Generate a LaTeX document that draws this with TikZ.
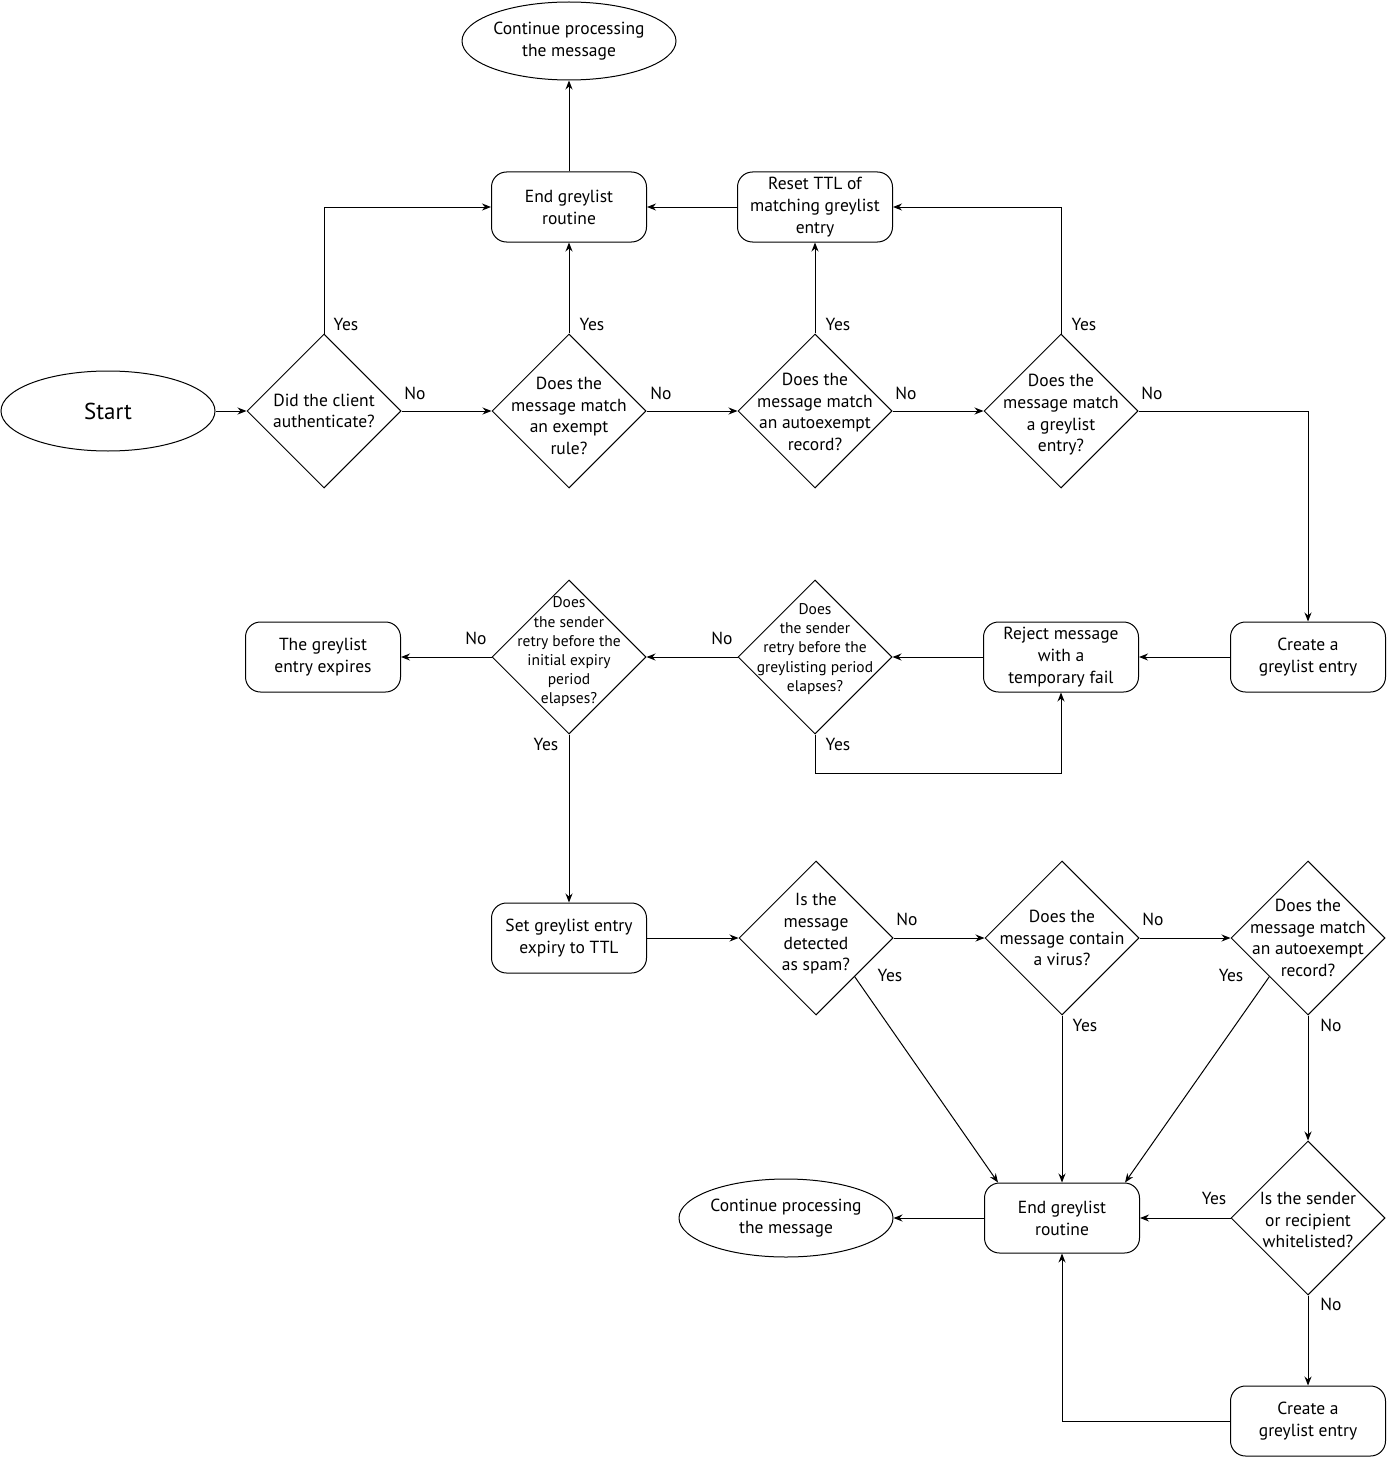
\documentclass[tikz,border=0pt]{standalone}
\usepackage{fontspec}
\setmainfont{PT Sans}
\usetikzlibrary{shapes.geometric,arrows.meta,calc}
\begin{document}
\begin{tikzpicture}[x=1pt,y=-1pt,
 every node/.style={font=\fontsize{17.5}{22}\selectfont},
 box/.style={draw, rectangle, rounded corners=15pt, minimum width=155pt, minimum height=70pt, align=center, inner sep=2pt, line width=1pt},
 term/.style={draw, ellipse, minimum width=214pt, minimum height=78pt, align=center, inner sep=0pt, line width=1pt},
 dia/.style={draw, diamond, minimum width=154pt, minimum height=154pt, inner sep=0pt, line width=1pt},
 dtxt/.style={align=center, inner sep=0pt, font=\fontsize{17.5}{21.7}\selectfont},
 stxt/.style={align=center, inner sep=0pt, font=\fontsize{15.5}{19.2}\selectfont},
 lbl/.style={inner sep=0pt},
 arr/.style={-{Stealth[length=9pt,width=7pt]}, line width=1pt}]
\useasboundingbox (0,0) rectangle (1387,1458);

% top row
\node[term, minimum height=80pt, font=\fontsize{23}{26}\selectfont] (start) at (108,411) {Start};
\node[term] (cont1) at (569,41) {Continue processing\\the message};
\node[box] (end1) at (569,207) {End greylist\\routine};
\node[box] (reset) at (815,207) {Reset TTL of\\matching greylist\\entry};
\node[dia, label={[dtxt]center:Did the client\\authenticate?}] (d1) at (324,411) {};
\node[dia, label={[dtxt,yshift=-5pt]center:Does the\\message match\\an exempt\\rule?}] (d2) at (569,411) {};
\node[dia, label={[dtxt,yshift=-1pt]center:Does the\\message match\\an autoexempt\\record?}] (d3) at (815,411) {};
\node[dia, label={[dtxt,yshift=-4pt]center:Does the\\message match\\a greylist\\entry?}] (d4) at (1061,411) {};

% second row
\node[box] (create1) at (1308,657) {Create a\\greylist entry};
\node[box] (reject) at (1061,657) {Reject message\\with a\\temporary fail};
\node[dia, label={[stxt,yshift=8pt]center:Does\\the sender\\retry before the\\greylisting period\\elapses?}] (dg) at (815,657) {};
\node[dia, label={[stxt,yshift=5pt]center:Does\\the sender\\retry before the\\initial expiry\\period\\elapses?}] (di) at (569,657) {};
\node[box] (expires) at (323,657) {The greylist\\entry expires};
\coordinate (gyc) at (1061,773);

% third row
\node[box] (setttl) at (569,938) {Set greylist entry\\expiry to TTL};
\node[dia, label={[dtxt,yshift=4pt]center:Is the\\message\\detected\\as spam?}] (spam) at (816,938) {};
\node[dia, label={[dtxt]center:Does the\\message contain\\a virus?}] (virus) at (1062,938) {};
\node[dia, label={[dtxt]center:Does the\\message match\\an autoexempt\\record?}] (auto) at (1308,938) {};
\node[dia, label={[dtxt,yshift=-2pt]center:Is the sender\\or recipient\\whitelisted?}] (white) at (1308,1218) {};
\node[box] (endB) at (1062,1218) {End greylist\\routine};
\node[term] (cont2) at (786,1218) {Continue processing\\the message};
\node[box] (create2) at (1308,1421) {Create a\\greylist entry};

% connectors top
\draw[arr] (start) -- (d1);
\draw[arr] (d1) -- (d2);
\draw[arr] (d2) -- (d3);
\draw[arr] (d3) -- (d4);
\draw[arr] (d4.east) -| (create1.north);
\draw[arr] (d1.north) |- (end1.west);
\draw[arr] (d2) -- (end1);
\draw[arr] (d3) -- (reset);
\draw[arr] (d4.north) |- (reset.east);
\draw[arr] (reset) -- (end1);
\draw[arr] (end1) -- (cont1);

% connectors second row
\draw[arr] (create1) -- (reject);
\draw[arr] (reject) -- (dg);
\draw[arr] (dg) -- (di);
\draw[arr] (di) -- (expires);
\draw[arr] (dg.south) |- (gyc) -- (reject.south);
\draw[arr] (di) -- (setttl);

% connectors third row
\draw[arr] (setttl) -- (spam);
\draw[arr] (spam) -- (virus);
\draw[arr] (virus) -- (auto);
\draw[arr] (spam.south east) -- ($(endB.north west)+(14,0)$);
\draw[arr] (virus) -- (endB);
\draw[arr] (auto.south west) -- ($(endB.north east)+(-15,0)$);
\draw[arr] (auto) -- (white);
\draw[arr] (white) -- (endB);
\draw[arr] (white) -- (create2);
\draw[arr] (create2.west) -| (endB.south);
\draw[arr] (endB) -- (cont2);

% labels
\node[lbl] (n1) at (415,393) {No};
\node[lbl] (n2) at (661,393) {No};
\node[lbl] (n3) at (906,393) {No};
\node[lbl] (n4) at (1152,393) {No};
\node[lbl] (y1) at (346,324) {Yes};
\node[lbl] (y2) at (592,324) {Yes};
\node[lbl] (y3) at (838,324) {Yes};
\node[lbl] (y4) at (1084,324) {Yes};
\node[lbl] (n5) at (476,638) {No};
\node[lbl] (n6) at (722,638) {No};
\node[lbl] (y5) at (546,744) {Yes};
\node[lbl] (y6) at (838,744) {Yes};
\node[lbl] (n7) at (907,919) {No};
\node[lbl] (n8) at (1153,919) {No};
\node[lbl] (y7) at (890,975) {Yes};
\node[lbl] (y8) at (1231,975) {Yes};
\node[lbl] (y9) at (1085,1025) {Yes};
\node[lbl] (n9) at (1331,1025) {No};
\node[lbl] (y10) at (1214,1198) {Yes};
\node[lbl] (n10) at (1331,1304) {No};
\end{tikzpicture}
\end{document}
